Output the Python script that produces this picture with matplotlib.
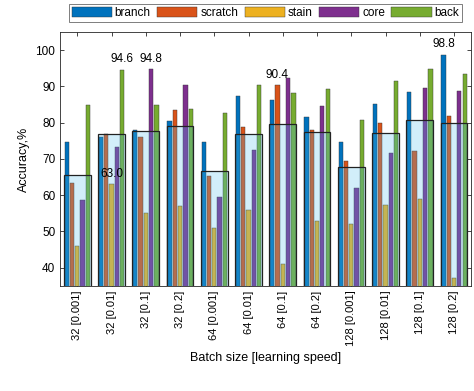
#!/usr/bin/env python3
"""Grouped accuracy bars per batch size / learning speed, with mean overlay."""

import matplotlib

matplotlib.use("Agg")
import matplotlib.pyplot as plt
import numpy as np

# ---- data ----
groups = [
    "32 [0.001]", "32 [0.01]", "32 [0.1]", "32 [0.2]",
    "64 [0.001]", "64 [0.01]", "64 [0.1]", "64 [0.2]",
    "128 [0.001]", "128 [0.01]", "128 [0.1]", "128 [0.2]",
]
highlight = ["32 [0.01]", "32 [0.1]", "64 [0.1]", "128 [0.2]"]

branch = [74.7, 76.0, 78.1, 80.5, 74.7, 87.3, 86.2, 81.7, 74.7, 85.1, 88.6, 98.8]
scratch = [63.4, 77.0, 76.0, 83.6, 65.4, 78.8, 90.4, 78.0, 69.3, 79.8, 72.2, 81.8]
stain = [46.0, 63.0, 55.0, 56.9, 50.9, 56.0, 41.0, 53.0, 52.1, 57.2, 59.0, 37.2]
core = [58.7, 73.4, 94.8, 90.5, 59.6, 72.5, 92.2, 84.5, 62.1, 71.6, 89.7, 88.7]
back = [84.9, 94.6, 84.9, 83.8, 82.8, 90.3, 88.3, 89.3, 80.7, 91.5, 94.7, 93.5]

series_names = ["branch", "scratch", "stain", "core", "back"]
colors = ["#0072BD", "#D95319", "#EDB120", "#7E2F8E", "#77AC30"]

# best value per class gets an annotation: (series index, group label)
best = [(1, "64 [0.1]"), (2, "32 [0.01]"), (4, "32 [0.01]"), (3, "32 [0.1]"), (0, "128 [0.2]")]


def main() -> None:
    plt.rcParams["font.family"] = ["Liberation Sans", "DejaVu Sans"]
    data = np.array([branch, scratch, stain, core, back])
    means = data.mean(axis=0)
    x = np.arange(1, len(groups) + 1)

    fig = plt.figure(figsize=(4.74, 3.91), dpi=100)
    ax = fig.add_axes([0.127, 0.269, 0.867, 0.649])

    step = 0.155
    width = 0.125
    for i, (name, vals) in enumerate(zip(series_names, data)):
        ax.bar(
            x + (i - 2) * step, vals, width=width, bottom=0,
            color=colors[i], edgecolor="#333333", linewidth=0.3,
            label=name, zorder=2,
        )

    # translucent mean bars on top
    ax.bar(
        x, means, width=0.78, color="#4DBEEE", alpha=0.25,
        edgecolor="none", zorder=3,
    )
    ax.bar(
        x, means, width=0.78, fill=False,
        edgecolor="#222222", linewidth=0.9, zorder=4,
    )

    for si, g in best:
        gi = groups.index(g)
        v = data[si, gi]
        ax.text(
            x[gi] + (si - 2) * step, v + 1.2, f"{v:.1f}",
            ha="center", va="bottom", fontsize=8.5, zorder=5,
        )

    ax.set_xlim(0.5, 12.5)
    ax.set_ylim(35, 105)
    ax.set_yticks(np.arange(40, 101, 10))
    ax.set_xticks(x)
    ax.set_xticklabels(groups, rotation=90, fontsize=8)
    for lbl in ax.get_xticklabels():
        if lbl.get_text() in highlight:
            lbl.set_color("red")
    ax.tick_params(axis="y", labelsize=8.5)
    ax.tick_params(direction="in", top=True, right=True, length=3, width=0.6,
                   colors="#262626")
    for lbl in ax.get_xticklabels() + ax.get_yticklabels():
        if lbl.get_color() != "red":
            lbl.set_color("black")
    for sp in ax.spines.values():
        sp.set_color("#262626")
        sp.set_linewidth(0.6)

    ax.set_xlabel("Batch size [learning speed]", fontsize=9, labelpad=4)
    ax.set_ylabel("Accuracy,%", fontsize=9, labelpad=4)

    handles, labels = ax.get_legend_handles_labels()
    leg = fig.legend(
        handles[:5], labels[:5], loc="upper center", ncol=5,
        bbox_to_anchor=(0.56, 0.99), fontsize=8.5, frameon=True,
        fancybox=False, edgecolor="#444444", handlelength=3.4,
        handleheight=0.9, handletextpad=0.25, columnspacing=0.55,
        borderpad=0.25, borderaxespad=0.0,
    )
    leg.get_frame().set_linewidth(0.6)

    fig.savefig("out.png", dpi=100)
    plt.close(fig)


if __name__ == "__main__":
    main()
